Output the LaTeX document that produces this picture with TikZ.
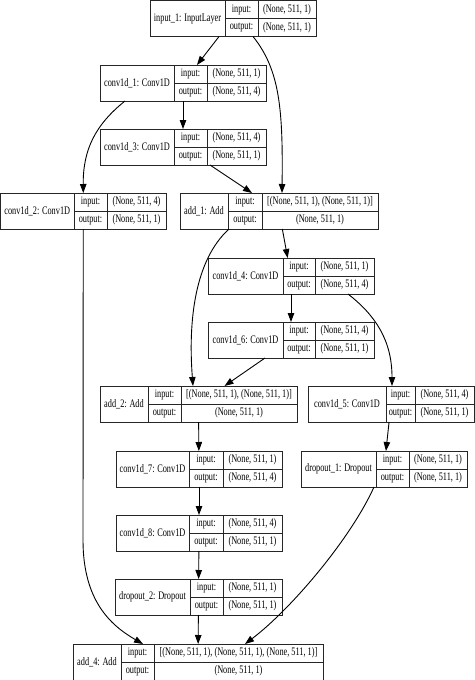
\documentclass[tikz,border=0pt]{standalone}
\usepackage{fontspec}
\setmainfont[FakeStretch=0.72]{Liberation Serif}
\usetikzlibrary{arrows.meta,fit}

\begin{document}
\begin{tikzpicture}[x=1pt, y=-1pt,
  font=\fontsize{11.5}{12}\selectfont,
  lname/.style={draw=black!85, line width=1pt, minimum height=36pt, inner sep=0pt, outer sep=0pt, anchor=north west},
  lport/.style={draw=black!85, line width=1pt, minimum height=18pt, minimum width=33pt, inner sep=0pt, outer sep=0pt, anchor=north west},
  lval/.style={draw=black!85, line width=1pt, minimum height=18pt, inner sep=0pt, outer sep=0pt, anchor=north west},
  lbox/.style={inner sep=0pt, outer sep=0pt},
  edge/.style={line width=0.9pt, -{Triangle[length=9pt,width=6.5pt]}}]
  \useasboundingbox (0,0) rectangle (474,680);
  % input_1
  \node[lname, minimum width=75pt] (input1L) at (150,0.5) {input\_1: InputLayer};
  \node[lport] (input1I) at (input1L.north east) {input:};
  \node[lport] (input1O) at (input1I.south west) {output:};
  \node[lval, minimum width=58pt] (input1IV) at (input1I.north east) {(None, 511, 1)};
  \node[lval, minimum width=58pt] (input1OV) at (input1O.north east) {(None, 511, 1)};
  \node[lbox, fit=(input1L)(input1OV)] (input1) {};
  % conv1d_1
  \node[lname, minimum width=74pt] (conv1L) at (100,65) {conv1d\_1: Conv1D};
  \node[lport] (conv1I) at (conv1L.north east) {input:};
  \node[lport] (conv1O) at (conv1I.south west) {output:};
  \node[lval, minimum width=59pt] (conv1IV) at (conv1I.north east) {(None, 511, 1)};
  \node[lval, minimum width=59pt] (conv1OV) at (conv1O.north east) {(None, 511, 4)};
  \node[lbox, fit=(conv1L)(conv1OV)] (conv1) {};
  % conv1d_3
  \node[lname, minimum width=74pt] (conv3L) at (100,129) {conv1d\_3: Conv1D};
  \node[lport] (conv3I) at (conv3L.north east) {input:};
  \node[lport] (conv3O) at (conv3I.south west) {output:};
  \node[lval, minimum width=59pt] (conv3IV) at (conv3I.north east) {(None, 511, 4)};
  \node[lval, minimum width=59pt] (conv3OV) at (conv3O.north east) {(None, 511, 1)};
  \node[lbox, fit=(conv3L)(conv3OV)] (conv3) {};
  % conv1d_2
  \node[lname, minimum width=73.5pt] (conv2L) at (0.5,193) {conv1d\_2: Conv1D};
  \node[lport] (conv2I) at (conv2L.north east) {input:};
  \node[lport] (conv2O) at (conv2I.south west) {output:};
  \node[lval, minimum width=59pt] (conv2IV) at (conv2I.north east) {(None, 511, 4)};
  \node[lval, minimum width=59pt] (conv2OV) at (conv2O.north east) {(None, 511, 1)};
  \node[lbox, fit=(conv2L)(conv2OV)] (conv2) {};
  % add_1
  \node[lname, minimum width=48pt] (add1L) at (180,193) {add\_1: Add};
  \node[lport, minimum width=34pt] (add1I) at (add1L.north east) {input:};
  \node[lport, minimum width=34pt] (add1O) at (add1I.south west) {output:};
  \node[lval, minimum width=116pt] (add1IV) at (add1I.north east) {[(None, 511, 1), (None, 511, 1)]};
  \node[lval, minimum width=116pt] (add1OV) at (add1O.north east) {(None, 511, 1)};
  \node[lbox, fit=(add1L)(add1OV)] (add1) {};
  % conv1d_4
  \node[lname, minimum width=75pt] (conv4L) at (208,258) {conv1d\_4: Conv1D};
  \node[lport, minimum width=32pt] (conv4I) at (conv4L.north east) {input:};
  \node[lport, minimum width=32pt] (conv4O) at (conv4I.south west) {output:};
  \node[lval, minimum width=59pt] (conv4IV) at (conv4I.north east) {(None, 511, 1)};
  \node[lval, minimum width=59pt] (conv4OV) at (conv4O.north east) {(None, 511, 4)};
  \node[lbox, fit=(conv4L)(conv4OV)] (conv4) {};
  % conv1d_6
  \node[lname, minimum width=75pt] (conv6L) at (208,322) {conv1d\_6: Conv1D};
  \node[lport, minimum width=32pt] (conv6I) at (conv6L.north east) {input:};
  \node[lport, minimum width=32pt] (conv6O) at (conv6I.south west) {output:};
  \node[lval, minimum width=59pt] (conv6IV) at (conv6I.north east) {(None, 511, 4)};
  \node[lval, minimum width=59pt] (conv6OV) at (conv6O.north east) {(None, 511, 1)};
  \node[lbox, fit=(conv6L)(conv6OV)] (conv6) {};
  % add_2
  \node[lname, minimum width=48pt] (add2L) at (100,386) {add\_2: Add};
  \node[lport] (add2I) at (add2L.north east) {input:};
  \node[lport] (add2O) at (add2I.south west) {output:};
  \node[lval, minimum width=116pt] (add2IV) at (add2I.north east) {[(None, 511, 1), (None, 511, 1)]};
  \node[lval, minimum width=116pt] (add2OV) at (add2O.north east) {(None, 511, 1)};
  \node[lbox, fit=(add2L)(add2OV)] (add2) {};
  % conv1d_5
  \node[lname, minimum width=78pt] (conv5L) at (308,386) {conv1d\_5: Conv1D};
  \node[lport, minimum width=29pt] (conv5I) at (conv5L.north east) {input:};
  \node[lport, minimum width=29pt] (conv5O) at (conv5I.south west) {output:};
  \node[lval, minimum width=59pt] (conv5IV) at (conv5I.north east) {(None, 511, 4)};
  \node[lval, minimum width=59pt] (conv5OV) at (conv5O.north east) {(None, 511, 1)};
  \node[lbox, fit=(conv5L)(conv5OV)] (conv5) {};
  % conv1d_7
  \node[lname, minimum width=73pt] (conv7L) at (116,451) {conv1d\_7: Conv1D};
  \node[lport, minimum width=34pt] (conv7I) at (conv7L.north east) {input:};
  \node[lport, minimum width=34pt] (conv7O) at (conv7I.south west) {output:};
  \node[lval, minimum width=59pt] (conv7IV) at (conv7I.north east) {(None, 511, 1)};
  \node[lval, minimum width=59pt] (conv7OV) at (conv7O.north east) {(None, 511, 4)};
  \node[lbox, fit=(conv7L)(conv7OV)] (conv7) {};
  % dropout_1
  \node[lname, minimum width=75pt] (drop1L) at (301,451) {dropout\_1: Dropout};
  \node[lport] (drop1I) at (drop1L.north east) {input:};
  \node[lport] (drop1O) at (drop1I.south west) {output:};
  \node[lval, minimum width=58pt] (drop1IV) at (drop1I.north east) {(None, 511, 1)};
  \node[lval, minimum width=58pt] (drop1OV) at (drop1O.north east) {(None, 511, 1)};
  \node[lbox, fit=(drop1L)(drop1OV)] (drop1) {};
  % conv1d_8
  \node[lname, minimum width=73pt] (conv8L) at (116,515) {conv1d\_8: Conv1D};
  \node[lport, minimum width=34pt] (conv8I) at (conv8L.north east) {input:};
  \node[lport, minimum width=34pt] (conv8O) at (conv8I.south west) {output:};
  \node[lval, minimum width=59pt] (conv8IV) at (conv8I.north east) {(None, 511, 4)};
  \node[lval, minimum width=59pt] (conv8OV) at (conv8O.north east) {(None, 511, 1)};
  \node[lbox, fit=(conv8L)(conv8OV)] (conv8) {};
  % dropout_2
  \node[lname, minimum width=75pt] (drop2L) at (115,579) {dropout\_2: Dropout};
  \node[lport] (drop2I) at (drop2L.north east) {input:};
  \node[lport] (drop2O) at (drop2I.south west) {output:};
  \node[lval, minimum width=59pt] (drop2IV) at (drop2I.north east) {(None, 511, 1)};
  \node[lval, minimum width=59pt] (drop2OV) at (drop2O.north east) {(None, 511, 1)};
  \node[lbox, fit=(drop2L)(drop2OV)] (drop2) {};
  % add_4
  \node[lname, minimum width=48pt] (add4L) at (73,644) {add\_4: Add};
  \node[lport] (add4I) at (add4L.north east) {input:};
  \node[lport] (add4O) at (add4I.south west) {output:};
  \node[lval, minimum width=169pt] (add4IV) at (add4I.north east) {[(None, 511, 1), (None, 511, 1), (None, 511, 1)]};
  \node[lval, minimum width=169pt] (add4OV) at (add4O.north east) {(None, 511, 1)};
  \node[lbox, fit=(add4L)(add4OV)] (add4) {};
  % edges
  \draw[edge] (input1) -- (conv1);
  \draw[edge] ([xshift=20pt]input1.south) .. controls (280,70) and (283,110) .. ([xshift=3pt]add1.north);
  \draw[edge] (conv1) -- (conv3);
  \draw[edge] ([xshift=-58pt]conv1.south) .. controls (95,125) and (83,150) .. (conv2.north);
  \draw[edge] (conv3) -- (add1);
  \draw[edge] (conv2.south) -- (83,540) .. controls (83,600) and (110,625) .. ([xshift=-55pt]add4.north);
  \draw[edge] (add1) -- (conv4);
  \draw[edge] ([xshift=-50pt]add1.south) .. controls (195,260) and (188,320) .. ([xshift=-5.5pt]add2.north);
  \draw[edge] (conv4) -- (conv6);
  \draw[edge] ([xshift=57pt]conv4.south) .. controls (375,315) and (392,340) .. ([xshift=1pt]conv5.north);
  \draw[edge] (conv6) -- (add2);
  \draw[edge] (add2) -- (conv7);
  \draw[edge] (conv5) -- (drop1);
  \draw[edge] (conv7) -- (conv8);
  \draw[edge] (conv8) -- (drop2);
  \draw[edge] (drop2) -- (add4);
  \draw[edge] ([xshift=-10pt]drop1.south) .. controls (350,540) and (290,610) .. ([xshift=47pt]add4.north);
\end{tikzpicture}
\end{document}
